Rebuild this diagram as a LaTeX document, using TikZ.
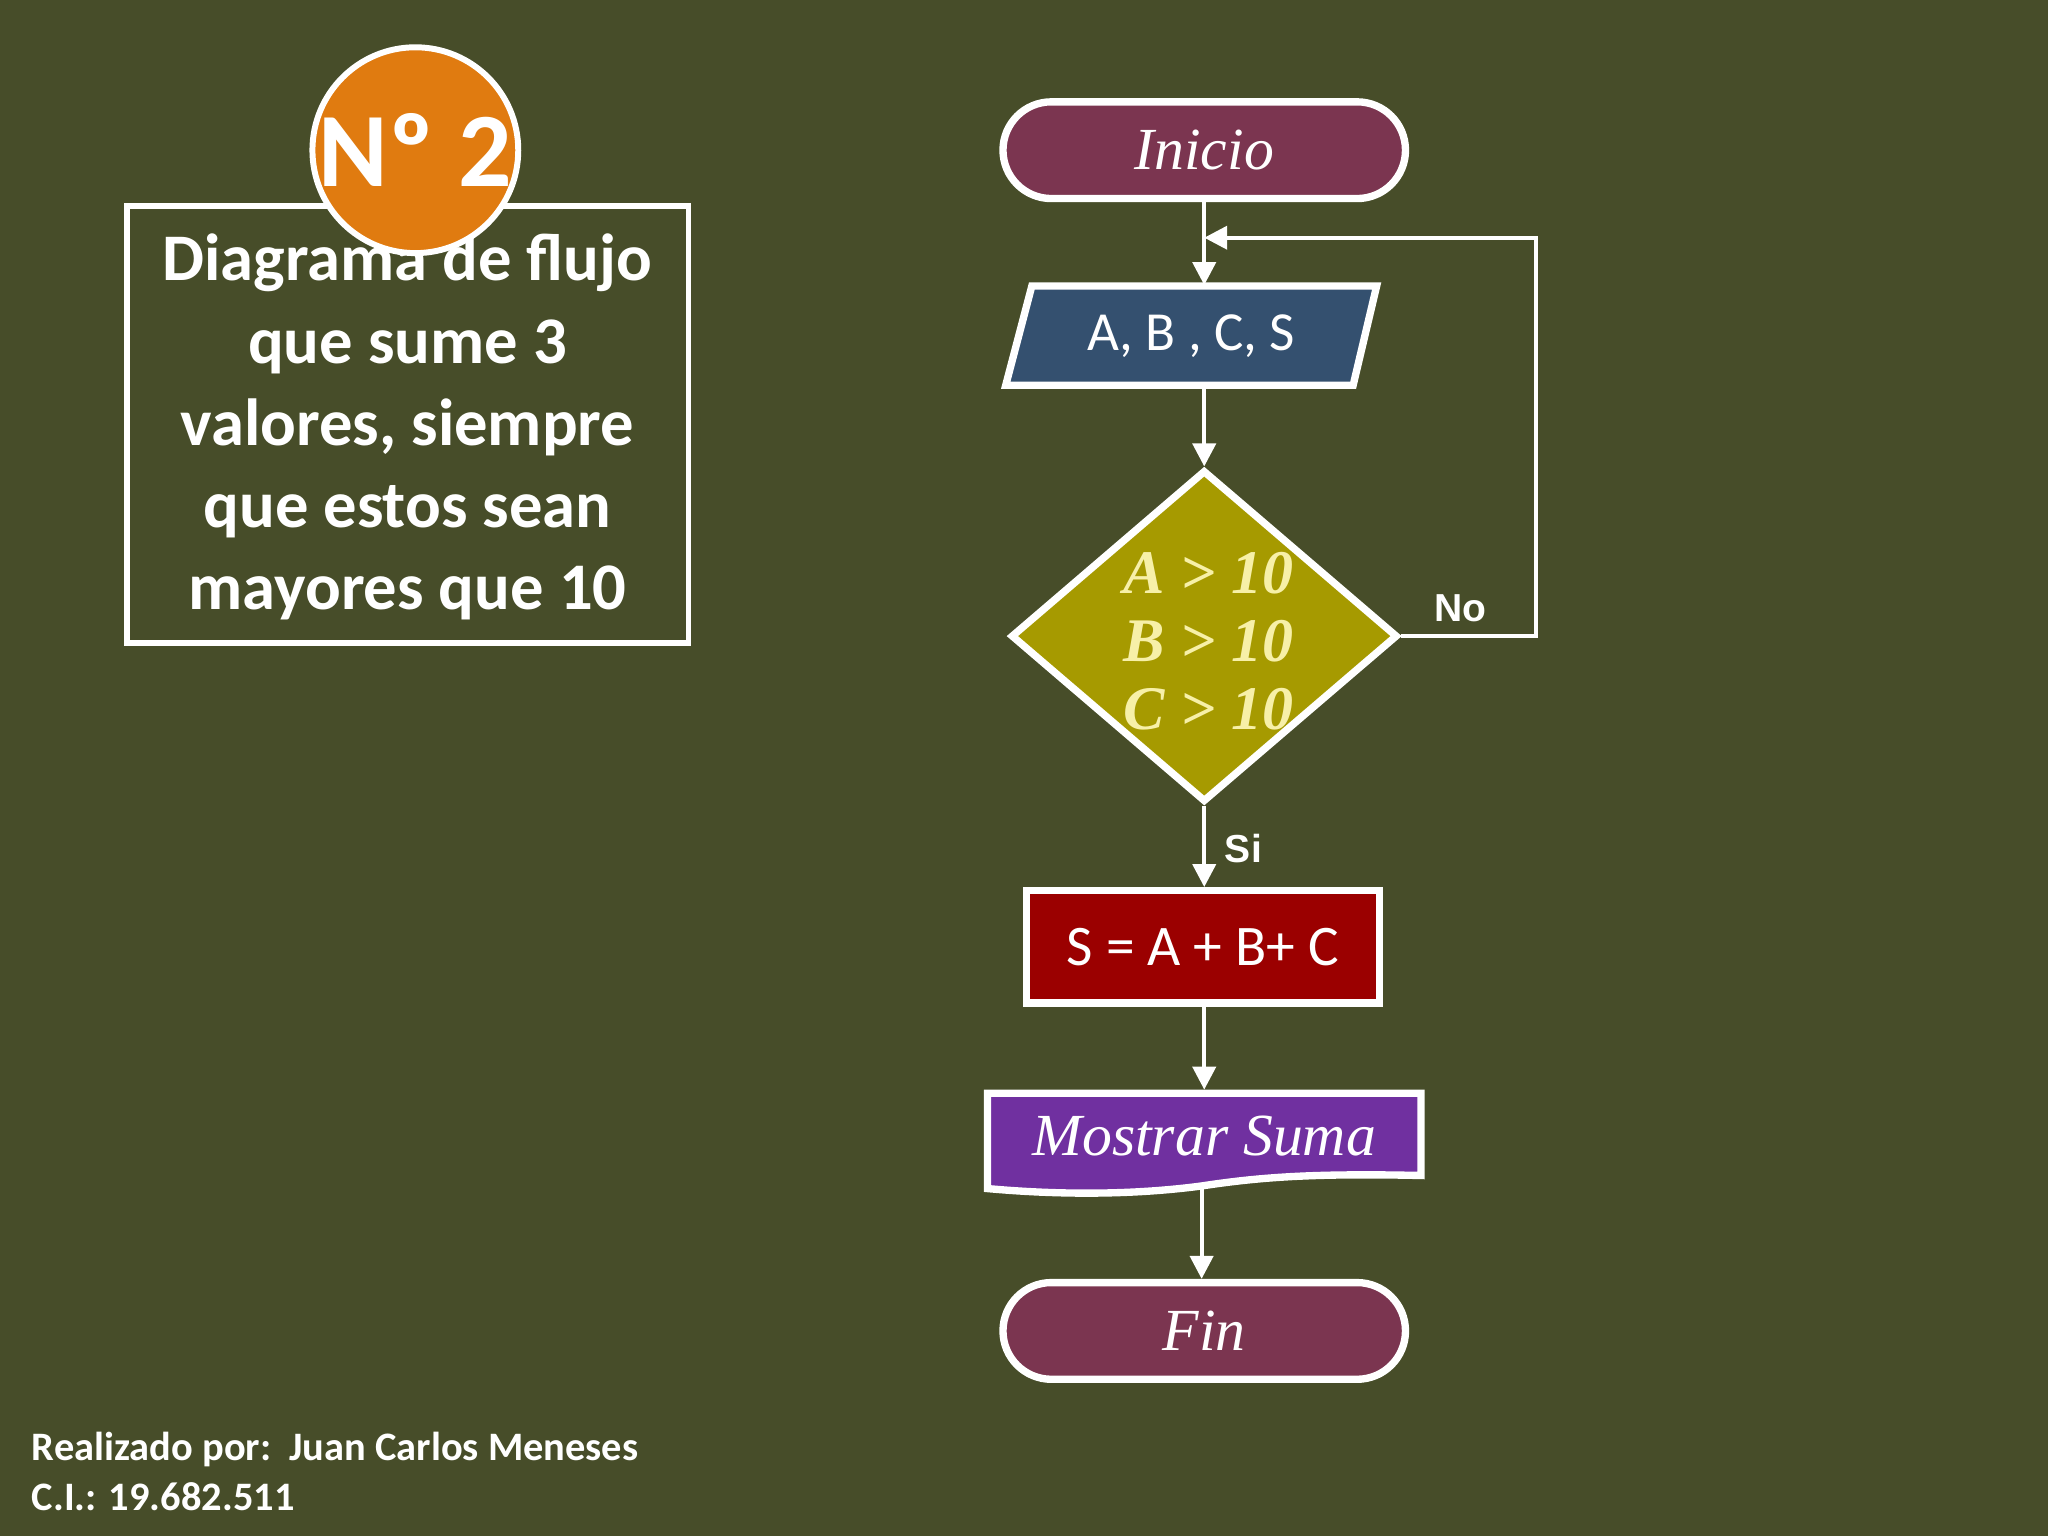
\documentclass[tikz,border=0pt]{standalone}
\usepackage{fontspec}
\setmainfont{Carlito}
\newfontfamily\serifit{Liberation Serif}
\newfontfamily\arialf{Liberation Sans}
\usetikzlibrary{shapes.geometric,arrows.meta}
\definecolor{bg}{HTML}{474D29}
\definecolor{pill}{HTML}{7B3550}
\definecolor{para}{HTML}{34506F}
\definecolor{dia}{HTML}{A69A00}
\definecolor{diatext}{HTML}{F7F0A8}
\definecolor{proc}{HTML}{9B0000}
\definecolor{docc}{HTML}{7030A0}
\definecolor{badge}{HTML}{E07B10}
\tikzset{
  pillbox/.style={draw=white,line width=1.6pt,fill=pill,rounded corners=0.37cm,minimum width=3.08cm,minimum height=0.74cm,text=white,font=\serifit\itshape\fontsize{13}{15}\selectfont},
  conn/.style={draw=white,line width=0.9pt,-{Triangle[length=5pt,width=5pt]}},
  lbl/.style={text=white,font=\arialf\bfseries\fontsize{8.5}{10}\selectfont}
}
\begin{document}
\begin{tikzpicture}[x=0.01cm,y=-0.01cm]
\fill[bg] (0,0) rectangle (1568,1176);
\useasboundingbox (0,0) rectangle (1568,1176);
% title
\node[draw=white,line width=1.3pt,minimum width=4.3cm,minimum height=3.34cm,inner sep=0] (title) at (312,325) {};
\node[text=white,align=center,font=\bfseries\fontsize{14.5}{17.9}\selectfont] (titletxt) at (312,327) {Diagrama de flujo\\que sume 3\\valores, siempre\\que estos sean\\mayores que 10};
\node[circle,draw=white,line width=1.3pt,fill=badge,minimum size=1.46cm,inner sep=0,text=white,font=\bfseries\fontsize{23}{26}\selectfont] (badge) at (318,115) {Nº 2};
% flowchart
\node[pillbox] (ini) at (922,115) {Inicio};
\fill[para,draw=white,line width=1.6pt] (790,219) -- (1054,219) -- (1036,295) -- (770,295) -- cycle;
\node[minimum width=2.64cm,minimum height=0.76cm,inner sep=0,text=white,font=\fontsize{12}{14}\selectfont] (par) at (912,257) {A, B , C, S};
\node[diamond,draw=white,line width=1.6pt,fill=dia,minimum width=2.96cm,minimum height=2.54cm,inner sep=0] (dec) at (922,487) {};
\node[text=diatext,align=center,font=\serifit\bfseries\itshape\fontsize{13.5}{14.8}\selectfont] (dect) at (925,491) {A > 10\\B > 10\\C > 10};
\node[draw=white,line width=1.6pt,fill=proc,minimum width=2.7cm,minimum height=0.86cm,inner sep=0,text=white,font=\fontsize{12.5}{14}\selectfont] (proc) at (921,725) {S = A + B+ C};
\fill[docc,draw=white,line width=1.6pt] (756,837) -- (1088,837) -- (1088,900) .. controls (1000,898) and (960,902) .. (920,908) .. controls (860,916) and (800,914) .. (756,910) -- cycle;
\node[minimum width=3.32cm,minimum height=0.7cm,inner sep=0,text=white,font=\serifit\itshape\fontsize{13}{15}\selectfont] (doc) at (922,870) {Mostrar Suma};
\coordinate (docb) at (920,910);
\node[pillbox] (fin) at (922,1019) {Fin};
\coordinate (loopin) at (922,182);
\draw[conn] (ini.south) -- (ini.south|-par.north);
\draw[conn] (par.south-|ini) -- (dec.north);
\draw[conn] (dec.east) -- (1176,487) -- (1176,182) -- (loopin);
\draw[conn] (dec.south) -- (proc.north-|dec.south);
\draw[conn] (proc.south-|dec.south) -- (doc.north-|dec.south);
\draw[conn] (docb) -- (fin.north-|docb);
\node[lbl] (no) at (1118,466) {No};
\node[lbl] (si) at (952,650) {Si};
% footer
\node[anchor=west,text=white,font=\bfseries\fontsize{8.8}{10.5}\selectfont] (f1) at (12,1110) {Realizado por:\ \ Juan Carlos Meneses};
\node[anchor=west,text=white,font=\bfseries\fontsize{8.8}{10.5}\selectfont] (f2) at (12,1146) {C.I.: 19.682.511};
\end{tikzpicture}
\end{document}
